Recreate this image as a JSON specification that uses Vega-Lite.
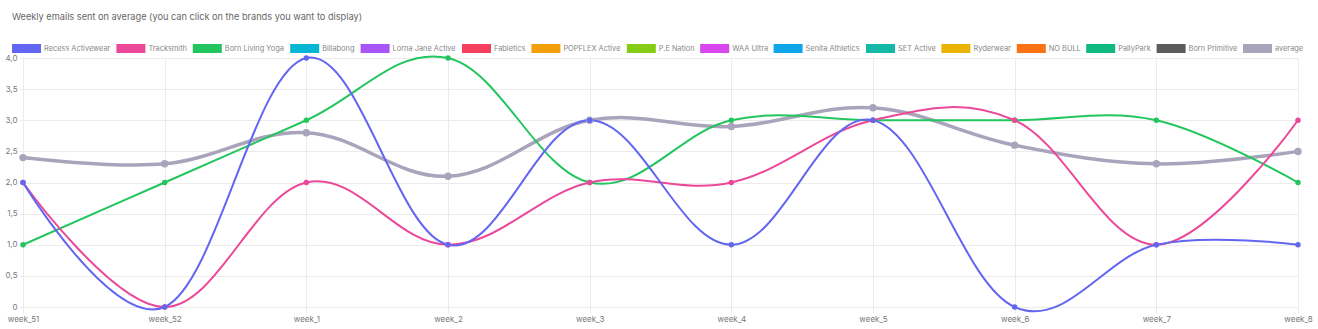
{
  "$schema": "https://vega.github.io/schema/vega-lite/v6.json",
  "autosize": "none",
  "width": 1275,
  "height": 249,
  "padding": {"left": 23, "top": 58, "right": 20, "bottom": 22},
  "background": "white",
  "config": {
    "font": "Inter",
    "view": {"stroke": null},
    "axis": {"labelFont": "Inter", "labelColor": "#777", "labelFontSize": 8, "gridColor": "#ebebeb", "tickColor": "#ebebeb", "domain": false, "title": null}
  },
  "title": {"text": "Weekly emails sent on average (you can click on the brands you want to display)", "anchor": "start", "frame": "group", "font": "Inter", "fontSize": 9.2, "fontWeight": "normal", "color": "#666", "dx": -11, "offset": 12},
  "data": {"values": [
    {"week": "week_51", "brand": "average", "emails": 2.4},
    {"week": "week_52", "brand": "average", "emails": 2.3},
    {"week": "week_1", "brand": "average", "emails": 2.8},
    {"week": "week_2", "brand": "average", "emails": 2.1},
    {"week": "week_3", "brand": "average", "emails": 3.0},
    {"week": "week_4", "brand": "average", "emails": 2.9},
    {"week": "week_5", "brand": "average", "emails": 3.2},
    {"week": "week_6", "brand": "average", "emails": 2.6},
    {"week": "week_7", "brand": "average", "emails": 2.3},
    {"week": "week_8", "brand": "average", "emails": 2.5},
    {"week": "week_51", "brand": "Born Living Yoga", "emails": 1},
    {"week": "week_52", "brand": "Born Living Yoga", "emails": 2},
    {"week": "week_1", "brand": "Born Living Yoga", "emails": 3},
    {"week": "week_2", "brand": "Born Living Yoga", "emails": 4},
    {"week": "week_3", "brand": "Born Living Yoga", "emails": 2},
    {"week": "week_4", "brand": "Born Living Yoga", "emails": 3},
    {"week": "week_5", "brand": "Born Living Yoga", "emails": 3},
    {"week": "week_6", "brand": "Born Living Yoga", "emails": 3},
    {"week": "week_7", "brand": "Born Living Yoga", "emails": 3},
    {"week": "week_8", "brand": "Born Living Yoga", "emails": 2},
    {"week": "week_51", "brand": "Tracksmith", "emails": 2},
    {"week": "week_52", "brand": "Tracksmith", "emails": 0},
    {"week": "week_1", "brand": "Tracksmith", "emails": 2},
    {"week": "week_2", "brand": "Tracksmith", "emails": 1},
    {"week": "week_3", "brand": "Tracksmith", "emails": 2},
    {"week": "week_4", "brand": "Tracksmith", "emails": 2},
    {"week": "week_5", "brand": "Tracksmith", "emails": 3},
    {"week": "week_6", "brand": "Tracksmith", "emails": 3},
    {"week": "week_7", "brand": "Tracksmith", "emails": 1},
    {"week": "week_8", "brand": "Tracksmith", "emails": 3},
    {"week": "week_51", "brand": "Recess Activewear", "emails": 2},
    {"week": "week_52", "brand": "Recess Activewear", "emails": 0},
    {"week": "week_1", "brand": "Recess Activewear", "emails": 4},
    {"week": "week_2", "brand": "Recess Activewear", "emails": 1},
    {"week": "week_3", "brand": "Recess Activewear", "emails": 3},
    {"week": "week_4", "brand": "Recess Activewear", "emails": 1},
    {"week": "week_5", "brand": "Recess Activewear", "emails": 3},
    {"week": "week_6", "brand": "Recess Activewear", "emails": 0},
    {"week": "week_7", "brand": "Recess Activewear", "emails": 1},
    {"week": "week_8", "brand": "Recess Activewear", "emails": 1}
  ]},
  "encoding": {
    "x": {"field": "week", "type": "ordinal", "sort": ["week_51", "week_52", "week_1", "week_2", "week_3", "week_4", "week_5", "week_6", "week_7", "week_8"], "scale": {"type": "point", "padding": 0},
      "axis": {"labelAngle": 0, "grid": true, "tickSize": 6, "labelPadding": 2}},
    "y": {"field": "emails", "type": "quantitative", "scale": {"domain": [0, 4], "nice": false},
      "axis": {"values": [0, 0.5, 1, 1.5, 2, 2.5, 3, 3.5, 4], "grid": true, "tickSize": 4, "labelPadding": 2, "labelFontSize": 8,
        "labelExpr": "datum.value == 0 ? '0' : replace(format(datum.value, '.1f'), '.', ',')"}},
    "color": {"field": "brand", "type": "nominal",
      "scale": {
        "domain": ["Recess Activewear", "Tracksmith", "Born Living Yoga", "Billabong", "Lorna Jane Active", "Fabletics", "POPFLEX Active", "P.E Nation", "WAA Ultra", "Senita Athletics", "SET Active", "Ryderwear", "NO BULL", "PallyPark", "Born Primitive", "average"],
        "range": ["#6366f1", "#ec4899", "#22c55e", "#06b6d4", "#a855f7", "#f43f5e", "#f59e0b", "#84cc16", "#d946ef", "#0ea5e9", "#14b8a6", "#eab308", "#f97316", "#10b981", "#5c5c5c", "#a9a4bb"]},
      "legend": {"orient": "none", "legendX": -11, "legendY": -24, "direction": "horizontal", "columns": 16, "title": null,
        "symbolType": "M-1,-0.31L1,-0.31L1,0.31L-1,0.31Z", "symbolSize": 841, "symbolStrokeWidth": 0,
        "labelFont": "Inter", "labelFontSize": 7.4, "labelColor": "#888", "labelOffset": 3, "columnPadding": 5.4,
        "encode": {"symbols": {"update": {"fill": {"scale": "color", "field": "value"}, "fillOpacity": {"value": 1}, "opacity": {"value": 1}}}}}
    }
  },
  "layer": [
    {"mark": {"type": "line", "interpolate": "cardinal", "tension": -0.1},
      "encoding": {"strokeWidth": {"condition": {"test": "datum.brand === 'average'", "value": 3.5}, "value": 2}}},
    {"mark": {"type": "point", "filled": true, "opacity": 1},
      "encoding": {"size": {"condition": {"test": "datum.brand === 'average'", "value": 55}, "value": 30}}}
  ]
}
